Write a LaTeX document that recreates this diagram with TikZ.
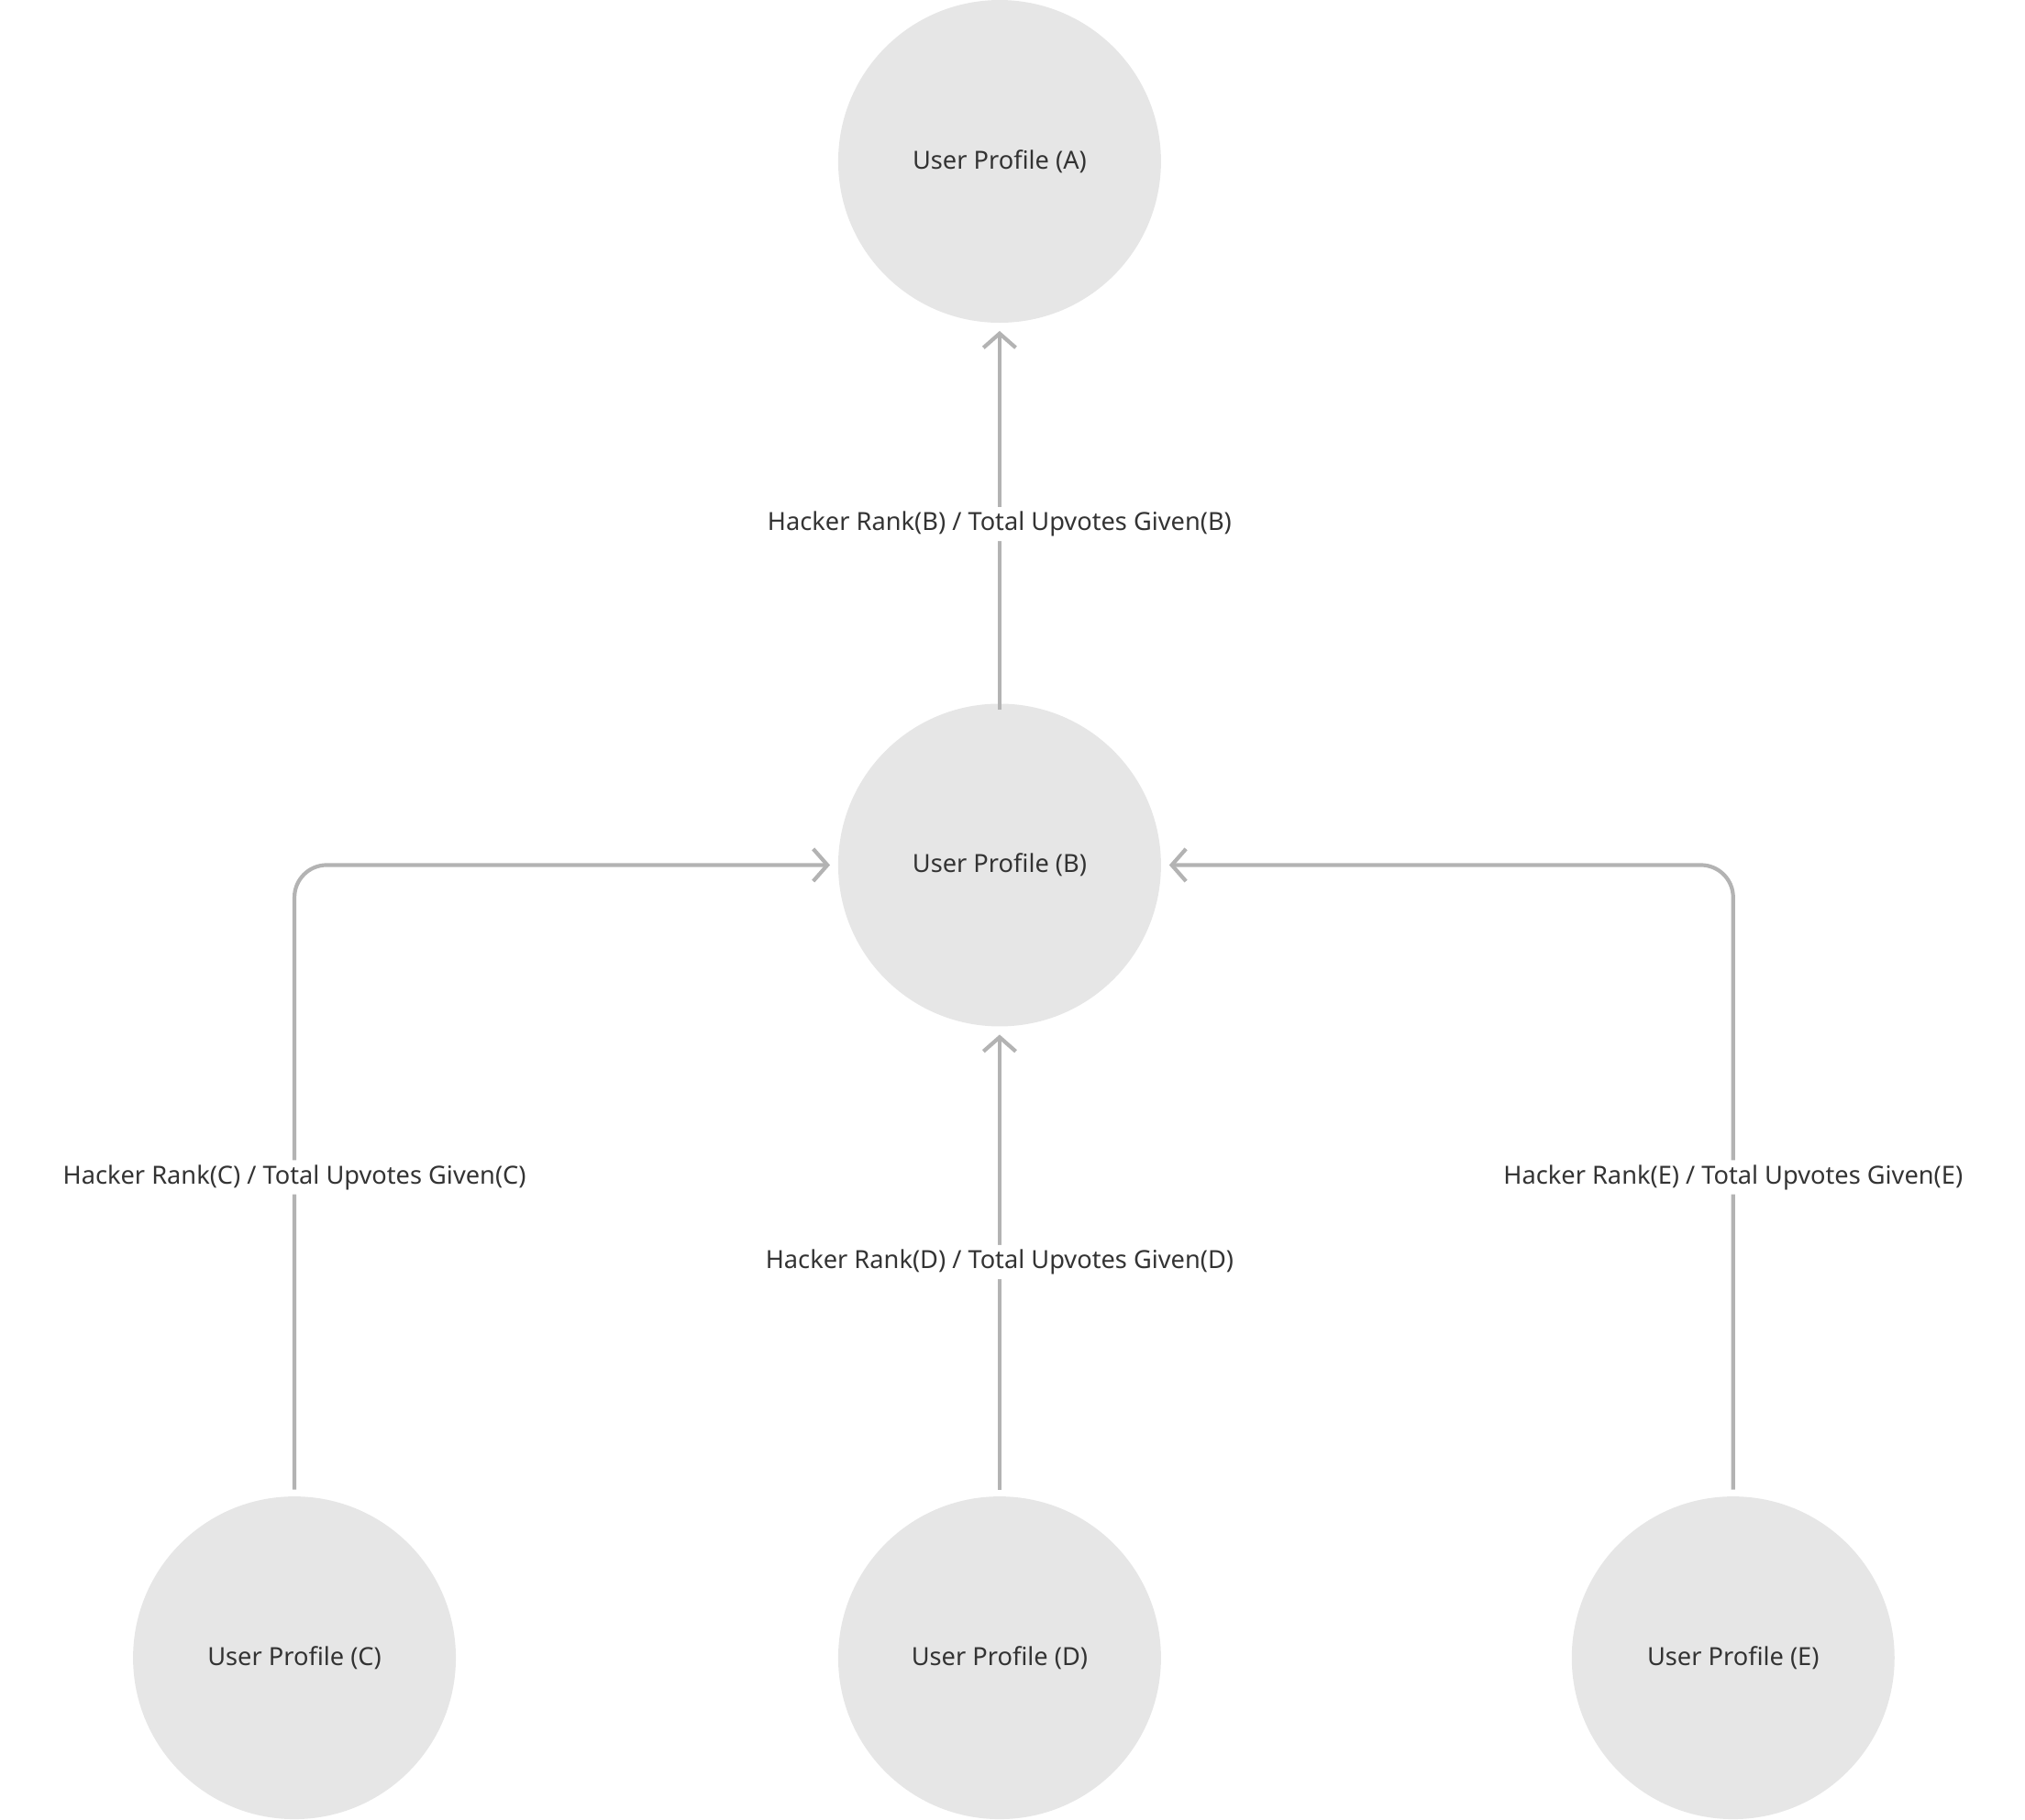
\documentclass[tikz,border=0pt]{standalone}
\usepackage{fontspec}
\setmainfont{Noto Sans}
\usetikzlibrary{arrows.meta}
\definecolor{nodegray}{HTML}{E6E6E6}
\definecolor{linegray}{HTML}{B3B3B3}
\definecolor{textgray}{HTML}{333333}
\tikzset{
  profile/.style={circle, fill=nodegray, minimum size=5cm, inner sep=0pt, text=textgray, font=\fontsize{11}{13}\selectfont},
  link/.style={draw=linegray, line width=1.7pt, -{Straight Barb[length=2.2mm, width=5mm, line width=1.7pt]}, rounded corners=0.5cm},
  rank/.style={fill=white, text=textgray, font=\fontsize{11}{13}\selectfont, inner sep=2pt}
}
\begin{document}
\begin{tikzpicture}[x=0.02cm, y=-0.02cm]
\useasboundingbox (0,0) rectangle (1568,1409);
\node[profile] (A) at (774,125) {User Profile (A)};
\node[profile] (B) at (774,670) {User Profile (B)};
\node[profile] (C) at (228,1284) {User Profile (C)};
\node[profile] (D) at (774,1284) {User Profile (D)};
\node[profile] (E) at (1342,1284) {User Profile (E)};
% connectors
\draw[link] ([yshift=-0.1cm]B.north) -- ([yshift=-0.12cm]A.south)
  node[rank, pos=0.49] {Hacker Rank(B) / Total Upvotes Given(B)};
\draw[link] ([yshift=0.1cm]C.north) |- ([xshift=-0.12cm]B.west)
  node[rank, pos=0.25] {Hacker Rank(C) / Total Upvotes Given(C)};
\draw[link] ([yshift=0.1cm]D.north) -- ([yshift=-0.12cm]B.south)
  node[rank, pos=0.5] {Hacker Rank(D) / Total Upvotes Given(D)};
\draw[link] ([yshift=0.1cm]E.north) |- ([xshift=0.12cm]B.east)
  node[rank, pos=0.25] {Hacker Rank(E) / Total Upvotes Given(E)};
\end{tikzpicture}
\end{document}
